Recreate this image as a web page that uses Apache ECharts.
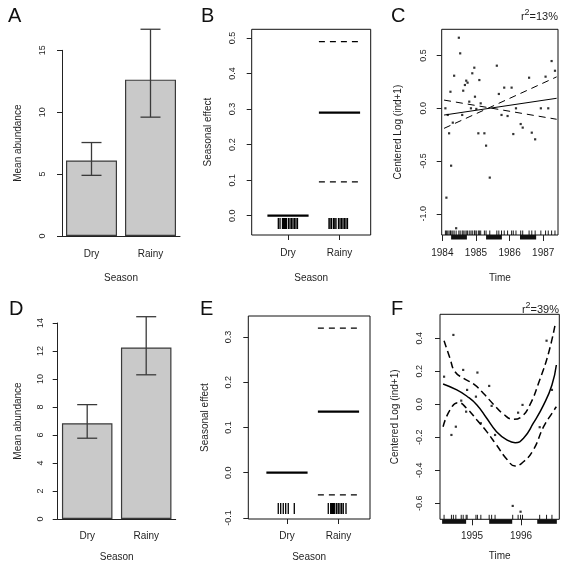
<!DOCTYPE html>
<html>
<head>
<meta charset="utf-8">
<script src="https://cdn.jsdelivr.net/npm/echarts@6/dist/echarts.min.js"></script>
<style>html,body{margin:0;padding:0;background:#fff}#c{width:563px;height:569px}</style>
</head>
<body>
<div id="c"></div>
<script>
// ---------- data ----------
const seasons = ['Dry', 'Rainy'];

// Panel A: mean abundance with error bars
const meanA = [6.1, 12.63];
const lowA = [4.9, 9.6];
const highA = [7.55, 16.7];
const ticksA = [0, 5, 10, 15];

// Panel D
const meanD = [6.84, 12.25];
const lowD = [5.77, 10.3];
const highD = [8.17, 14.45];
const ticksD = [0, 2, 4, 6, 8, 10, 12, 14];

// Panel B: seasonal effect (reference level has no band)
const effectB = [0, 0.29];
const bandLowB = [null, 0.095];
const bandHighB = [null, 0.49];
const rugDryB = [0.812, 0.845, 0.893, 0.913, 0.932, 0.951, 0.971, 1.010, 1.039, 1.068, 1.097, 1.126, 1.155, 1.184];
const rugRainyB = [1.796, 1.816, 1.845, 1.883, 1.909, 1.932, 1.981, 2.010, 2.039, 2.068, 2.097, 2.126, 2.155];
const ticksB = [0, 0.1, 0.2, 0.3, 0.4, 0.5];

// Panel E
const effectE = [0, 0.135];
const bandLowE = [null, -0.049];
const bandHighE = [null, 0.32];
const rugDryE = [0.831, 0.878, 0.928, 0.975, 1.025, 1.142];
const rugRainyE = [1.802, 1.849, 1.860, 1.874, 1.887, 1.901, 1.915, 1.928, 1.965, 1.996, 2.029, 2.062, 2.093, 2.146];
const ticksE = [-0.1, 0, 0.1, 0.2, 0.3];

// Panel C: centered log abundance over time, linear fit
const pointsC = [
  [1984.09,0.0],[1984.12,-0.847],[1984.16,-0.063],[1984.2,-0.237],[1984.24,0.157],[1984.26,-0.544],
  [1984.31,-0.136],[1984.35,0.309],[1984.41,-1.137],[1984.49,0.669],[1984.53,0.521],[1984.59,-0.063],
  [1984.62,0.167],[1984.67,0.221],[1984.71,0.262],[1984.75,0.243],[1984.8,0.063],[1984.85,0.0],
  [1984.89,0.332],[1984.95,0.385],[1984.97,0.11],[1985.01,-0.006],[1985.07,-0.237],[1985.1,0.268],
  [1985.14,0.047],[1985.25,-0.237],[1985.3,-0.354],[1985.41,-0.657],[1985.62,0.404],[1985.68,0.136],
  [1985.76,-0.063],[1985.84,0.196],[1985.94,-0.073],[1986.06,0.196],[1986.11,-0.244],[1986.19,0.0],
  [1986.33,-0.149],[1986.39,-0.183],[1986.58,0.29],[1986.66,-0.231],[1986.76,-0.294],[1986.93,0.0],
  [1987.07,0.3],[1987.15,0.0],[1987.25,0.448],[1987.35,0.356]
];
const fitC = [[1984.05,-0.064],[1987.4,0.095]];
const bandAC = [[1984.05,0.078],[1987.4,-0.104]];
const bandBC = [[1984.05,-0.19],[1987.4,0.298]];
const blocksC = [[1984.26,1984.73],[1985.30,1985.77],[1986.31,1986.79]];
const ticksC = [-1, -0.5, 0, 0.5];
const yearsC = [1984, 1985, 1986, 1987];
const r2C = '13%';

// Panel F: smooth fit
const pointsF = [
  [1994.43,0.167],[1994.58,-0.186],[1994.62,0.42],[1994.67,-0.136],[1994.78,0.022],[1994.82,0.208],
  [1994.88,-0.045],[1994.9,0.087],[1995.08,0.046],[1995.11,0.192],[1995.18,-0.115],[1995.35,0.111],
  [1995.4,-0.01],[1995.47,-0.186],[1995.83,-0.616],[1995.94,-0.051],[1995.99,-0.651],[1996.03,-0.004],
  [1996.38,-0.139],[1996.52,0.385],[1996.63,0.087]
];
const fitF = [[1994.41,0.123],[1994.69,0.087],[1994.89,0.05],[1995.1,-0.004],[1995.3,-0.085],[1995.5,-0.166],
  [1995.71,-0.216],[1995.88,-0.233],[1996.05,-0.206],[1996.25,-0.115],[1996.46,-0.004],[1996.63,0.117],[1996.72,0.238]];
const upperF = [[1994.43,0.385],[1994.55,0.279],[1994.65,0.198],[1994.82,0.158],[1995.03,0.123],[1995.23,0.067],
  [1995.43,0.002],[1995.64,-0.059],[1995.84,-0.091],[1996.01,-0.075],[1996.18,-0.004],[1996.38,0.147],[1996.56,0.309],[1996.7,0.49]];
const lowerF = [[1994.41,-0.136],[1994.55,-0.035],[1994.72,0.01],[1994.89,-0.024],[1995.1,-0.095],[1995.3,-0.166],
  [1995.5,-0.247],[1995.71,-0.333],[1995.88,-0.374],[1996.05,-0.348],[1996.25,-0.277],[1996.46,-0.136],[1996.63,-0.055],[1996.72,-0.015]];
const blocksF = [[1994.39,1994.88],[1995.35,1995.82],[1996.33,1996.73]];
const ticksF = [-0.6, -0.4, -0.2, 0, 0.2, 0.4];
const yearsF = [1995, 1996];
const r2F = '39%';

// ---------- layout / style ----------
const FONT = 'Liberation Sans, Arial, Helvetica, sans-serif';
const TXT = '#1e1e1e';
const AX = '#222';
const range = {
  B: {x: [0.295, 2.606], y: [-0.0543, 0.5245]},
  E: {x: [0.249, 2.612], y: [-0.1024, 0.3467]},
  C: {x: [1983.98, 1987.44], y: [-1.201, 0.749]},
  F: {x: [1994.347, 1996.78], y: [-0.697, 0.545]}
};
const grids = [
  {left: 62, top: 50.3, width: 118, height: 185.7},     // A
  {left: 251.7, top: 29.3, width: 119, height: 205.7},  // B
  {left: 441.7, top: 29.3, width: 116.3, height: 205.7},// C
  {left: 57.7, top: 323, width: 118, height: 196},      // D
  {left: 248.3, top: 316, width: 121.7, height: 203},   // E
  {left: 440, top: 314.3, width: 119.3, height: 205}    // F
];

const tickLabel = {fontSize: 9, color: TXT, fontFamily: FONT};
const nameStyle = {fontSize: 10, color: TXT, fontFamily: FONT};

function yValue(gi, min, max, ticks, name, nameGap, fmt, margin) {
  return {
    type: 'value', gridIndex: gi, min: min, max: max,
    name: name, nameLocation: 'middle', nameRotate: 90, nameGap: nameGap, nameTextStyle: nameStyle,
    splitLine: {show: false},
    axisLine: {show: false, onZero: false},
    axisTick: {show: true, length: 5, lineStyle: {color: AX, width: 1}, customValues: ticks},
    axisLabel: Object.assign({rotate: 90, margin: margin, customValues: ticks, formatter: fmt}, tickLabel)
  };
}

const yAxes = [
  Object.assign(yValue(0, 0, 15, ticksA, 'Mean abundance', 39, v => String(v), 15), {axisLine: {show: true, onZero: false, lineStyle: {color: AX, width: 1}}}),
  yValue(1, range.B.y[0], range.B.y[1], ticksB, 'Seasonal effect', 38, v => v.toFixed(1), 15),
  yValue(2, range.C.y[0], range.C.y[1], ticksC, 'Centered Log (ind+1)', 38, v => v.toFixed(1), 14),
  Object.assign(yValue(3, 0, 14, ticksD, 'Mean abundance', 34, v => String(v), 13), {axisLine: {show: true, onZero: false, lineStyle: {color: AX, width: 1}}}),
  yValue(4, range.E.y[0], range.E.y[1], ticksE, 'Seasonal effect', 38, v => v.toFixed(1), 15),
  yValue(5, range.F.y[0], range.F.y[1], ticksF, 'Centered Log (ind+1)', 40, v => v.toFixed(1), 16)
];

function xCat(gi, gap, margin) {
  return {
    type: 'category', gridIndex: gi, data: seasons,
    name: 'Season', nameLocation: 'middle', nameGap: gap, nameTextStyle: nameStyle,
    axisLine: {show: true, onZero: false, lineStyle: {color: AX, width: 1}},
    axisTick: {show: false},
    axisLabel: Object.assign({margin: margin}, nameStyle)
  };
}
function xFactor(gi, r, gap, margin) {
  return {
    type: 'value', gridIndex: gi, min: r[0], max: r[1],
    name: 'Season', nameLocation: 'middle', nameGap: gap, nameTextStyle: nameStyle,
    splitLine: {show: false}, axisLine: {show: false, onZero: false},
    axisTick: {show: true, length: 5, lineStyle: {color: AX, width: 1}, customValues: [1, 2]},
    axisLabel: Object.assign({margin: margin, customValues: [1, 2], formatter: v => seasons[Math.round(v) - 1]}, nameStyle)
  };
}
function xTime(gi, r, years, gap, margin) {
  return {
    type: 'value', gridIndex: gi, min: r[0], max: r[1],
    name: 'Time', nameLocation: 'middle', nameGap: gap, nameTextStyle: nameStyle,
    splitLine: {show: false}, axisLine: {show: false, onZero: false},
    axisTick: {show: true, length: 6, lineStyle: {color: AX, width: 1}, customValues: years},
    axisLabel: Object.assign({margin: margin, customValues: years, formatter: v => String(Math.round(v))}, nameStyle)
  };
}
const xAxes = [
  xCat(0, 37, 13),
  xFactor(1, range.B.x, 38, 13),
  xTime(2, range.C.x, yearsC, 38, 13),
  xCat(3, 33, 12),
  xFactor(4, range.E.x, 33, 12),
  xTime(5, range.F.x, yearsF, 32, 12)
];

const series = [];

function barPanel(gi, mean, low, high, barW) {
  series.push({
    type: 'bar', xAxisIndex: gi, yAxisIndex: gi, data: mean, barWidth: barW,
    itemStyle: {color: '#c9c9c9', borderColor: '#3a3a3a', borderWidth: 1.2},
    silent: true
  });
  series.push({
    type: 'custom', xAxisIndex: gi, yAxisIndex: gi, silent: true, z: 5,
    data: mean.map((m, i) => [i, low[i], high[i]]),
    encode: {x: 0, y: [1, 2]},
    renderItem: function (p, api) {
      const lo = api.coord([api.value(0), api.value(1)]);
      const hi = api.coord([api.value(0), api.value(2)]);
      const hw = 10;
      const st = {stroke: '#3a3a3a', lineWidth: 1.3};
      return {type: 'group', children: [
        {type: 'line', shape: {x1: lo[0], y1: lo[1], x2: hi[0], y2: hi[1]}, style: st},
        {type: 'line', shape: {x1: lo[0] - hw, y1: lo[1], x2: lo[0] + hw, y2: lo[1]}, style: st},
        {type: 'line', shape: {x1: hi[0] - hw, y1: hi[1], x2: hi[0] + hw, y2: hi[1]}, style: st}
      ]};
    }
  });
}

function segLine(gi, y, half, center, width, dashed) {
  series.push({
    type: 'line', xAxisIndex: gi, yAxisIndex: gi, silent: true, showSymbol: false, symbol: 'none',
    data: [[center - half, y], [center + half, y]],
    lineStyle: {color: '#000', width: width, type: dashed ? [6, 5] : 'solid'}
  });
}

function rugFactor(gi, xs, baseY, len) {
  series.push({
    type: 'custom', xAxisIndex: gi, yAxisIndex: gi, silent: true,
    data: xs.map(x => [x, baseY]), encode: {x: 0, y: 1},
    renderItem: function (p, api) {
      const c = api.coord([api.value(0), api.value(1)]);
      return {type: 'line', shape: {x1: c[0], y1: c[1], x2: c[0], y2: c[1] - len},
        style: {stroke: '#000', lineWidth: 1.3}};
    }
  });
}

function effectPanel(gi, eff, lo, hi, rugs, rugBase) {
  eff.forEach((e, i) => {
    segLine(gi, e, 0.4, i + 1, 2.2, false);
    if (lo[i] !== null) segLine(gi, lo[i], 0.4, i + 1, 1.2, true);
    if (hi[i] !== null) segLine(gi, hi[i], 0.4, i + 1, 1.2, true);
  });
  rugs.forEach(r => rugFactor(gi, r, rugBase, 11));
}

function timePanel(gi, pts, lines, blocks, ymin, dash, lw) {
  series.push({
    type: 'scatter', xAxisIndex: gi, yAxisIndex: gi, silent: true,
    data: pts, symbol: 'rect', symbolSize: 2.2, itemStyle: {color: '#000'}
  });
  lines.forEach(l => {
    series.push({
      type: 'line', xAxisIndex: gi, yAxisIndex: gi, silent: true, showSymbol: false, symbol: 'none',
      smooth: l.smooth ? 0.5 : false,
      data: l.data, lineStyle: {color: '#000', width: lw, type: l.dashed ? dash : 'solid'}
    });
  });
  // rug of observation times
  series.push({
    type: 'custom', xAxisIndex: gi, yAxisIndex: gi, silent: true,
    data: pts.map(p => [p[0], ymin]), encode: {x: 0, y: 1},
    renderItem: function (p, api) {
      const c = api.coord([api.value(0), api.value(1)]);
      return {type: 'line', shape: {x1: c[0], y1: c[1], x2: c[0], y2: c[1] - 4.5},
        style: {stroke: '#000', lineWidth: 0.9}};
    }
  });
  // dense rug blocks along the axis
  series.push({
    type: 'custom', xAxisIndex: gi, yAxisIndex: gi, silent: true,
    data: blocks.map(b => [b[0], b[1], ymin]), encode: {x: [0, 1], y: 2},
    renderItem: function (p, api) {
      const a = api.coord([api.value(0), api.value(2)]);
      const b = api.coord([api.value(1), api.value(2)]);
      return {type: 'rect', shape: {x: a[0], y: a[1], width: b[0] - a[0], height: 4.5},
        style: {fill: '#111'}};
    }
  });
}

barPanel(0, meanA, lowA, highA, 51);
effectPanel(1, effectB, bandLowB, bandHighB, [rugDryB, rugRainyB], -0.0374);
timePanel(2, pointsC, [
  {data: fitC}, {data: bandAC, dashed: true}, {data: bandBC, dashed: true}
], blocksC, range.C.y[0], [7, 5], 1);
barPanel(3, meanD, lowD, highD, 50.5);
effectPanel(4, effectE, bandLowE, bandHighE, [rugDryE, rugRainyE], -0.0914);
timePanel(5, pointsF, [
  {data: fitF, smooth: true}, {data: upperF, dashed: true, smooth: true}, {data: lowerF, dashed: true, smooth: true}
], blocksF, range.F.y[0], [7, 4], 1.5);

function letter(t, x, y) {
  return {type: 'text', x: x, y: y, silent: true,
    style: {text: t, fontSize: 20, fontFamily: FONT, fill: '#111', verticalAlign: 'middle', align: 'left'}};
}
function r2(val, x, y) {
  return {type: 'text', x: x, y: y, silent: true,
    style: {
      text: '{a|r}{s|2}{a|=' + val + '}', align: 'right', verticalAlign: 'middle', fill: TXT,
      rich: {
        a: {fontSize: 11, fontFamily: FONT, fill: TXT, lineHeight: 14, verticalAlign: 'bottom'},
        s: {fontSize: 9, fontFamily: FONT, fill: TXT, lineHeight: 14, verticalAlign: 'top'}
      }
    }};
}

const option = {
  animation: false,
  backgroundColor: '#fff',
  textStyle: {fontFamily: FONT},
  grid: grids.map((g, i) => Object.assign({
    show: !(i === 0 || i === 3), borderColor: '#111', borderWidth: 1, backgroundColor: 'transparent',
    containLabel: false
  }, g)),
  xAxis: xAxes,
  yAxis: yAxes,
  series: series,
  graphic: [
    letter('A', 8, 16), letter('B', 201, 16), letter('C', 391, 16),
    letter('D', 9, 309), letter('E', 200, 309), letter('F', 391, 309),
    r2(r2C, 558, 15), r2(r2F, 559, 308)
  ]
};

const chart = echarts.init(document.getElementById('c'), null, {renderer: 'canvas'});
chart.setOption(option);
</script>
</body>
</html>
